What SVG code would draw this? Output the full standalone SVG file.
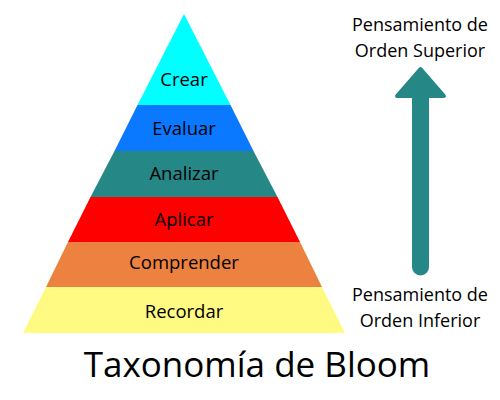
<svg xmlns="http://www.w3.org/2000/svg" width="500" height="400" viewBox="0 0 500 400">
<style>
text{font-family:"Open Sans","Noto Sans","Liberation Sans",sans-serif;fill:#000;text-anchor:middle}
.l{font-size:18.5px}
.s{font-size:18px}
.t{font-size:35px}
</style>
<rect width="500" height="400" fill="#fff"/>
<g id="crear"><polygon points="184,14 230.5,105 137.5,105" fill="#00FFFF"/><text class="l" x="184" y="86">Crear</text></g>
<g id="evaluar"><polygon points="137.5,105 230.5,105 253.5,151 114.5,151" fill="#0A78FF"/><text class="l" x="184" y="135">Evaluar</text></g>
<g id="analizar"><polygon points="114.5,151 253.5,151 277.5,197 90.5,197" fill="#268787"/><text class="l" x="184" y="180">Analizar</text></g>
<g id="aplicar"><polygon points="90.5,197 277.5,197 300,242 68,242" fill="#FF0000"/><text class="l" x="184" y="226">Aplicar</text></g>
<g id="comprender"><polygon points="68,242 300,242 322,287 46,287" fill="#ED8140"/><text class="l" x="184" y="269">Comprender</text></g>
<g id="recordar"><polygon points="46,287 322,287 345,333 23,333" fill="#FFFA82"/><text class="l" x="184" y="318">Recordar</text></g>
<g id="connectors">
<line x1="420.5" y1="95" x2="420.5" y2="267" stroke="#268787" stroke-width="17" stroke-linecap="round"/>
<polygon points="420.5,69 444,96 397,96" fill="#268787" stroke="#268787" stroke-width="4" stroke-linejoin="round"/>
</g>
<g id="top-label"><text class="s" x="420" y="31">Pensamiento de</text><text class="s" x="420" y="57">Orden Superior</text></g>
<g id="bottom-label"><text class="s" x="420" y="301">Pensamiento de</text><text class="s" x="420" y="327">Orden Inferior</text></g>
<g id="title"><text class="t" x="257" y="377">Taxonomía de Bloom</text></g>
</svg>
